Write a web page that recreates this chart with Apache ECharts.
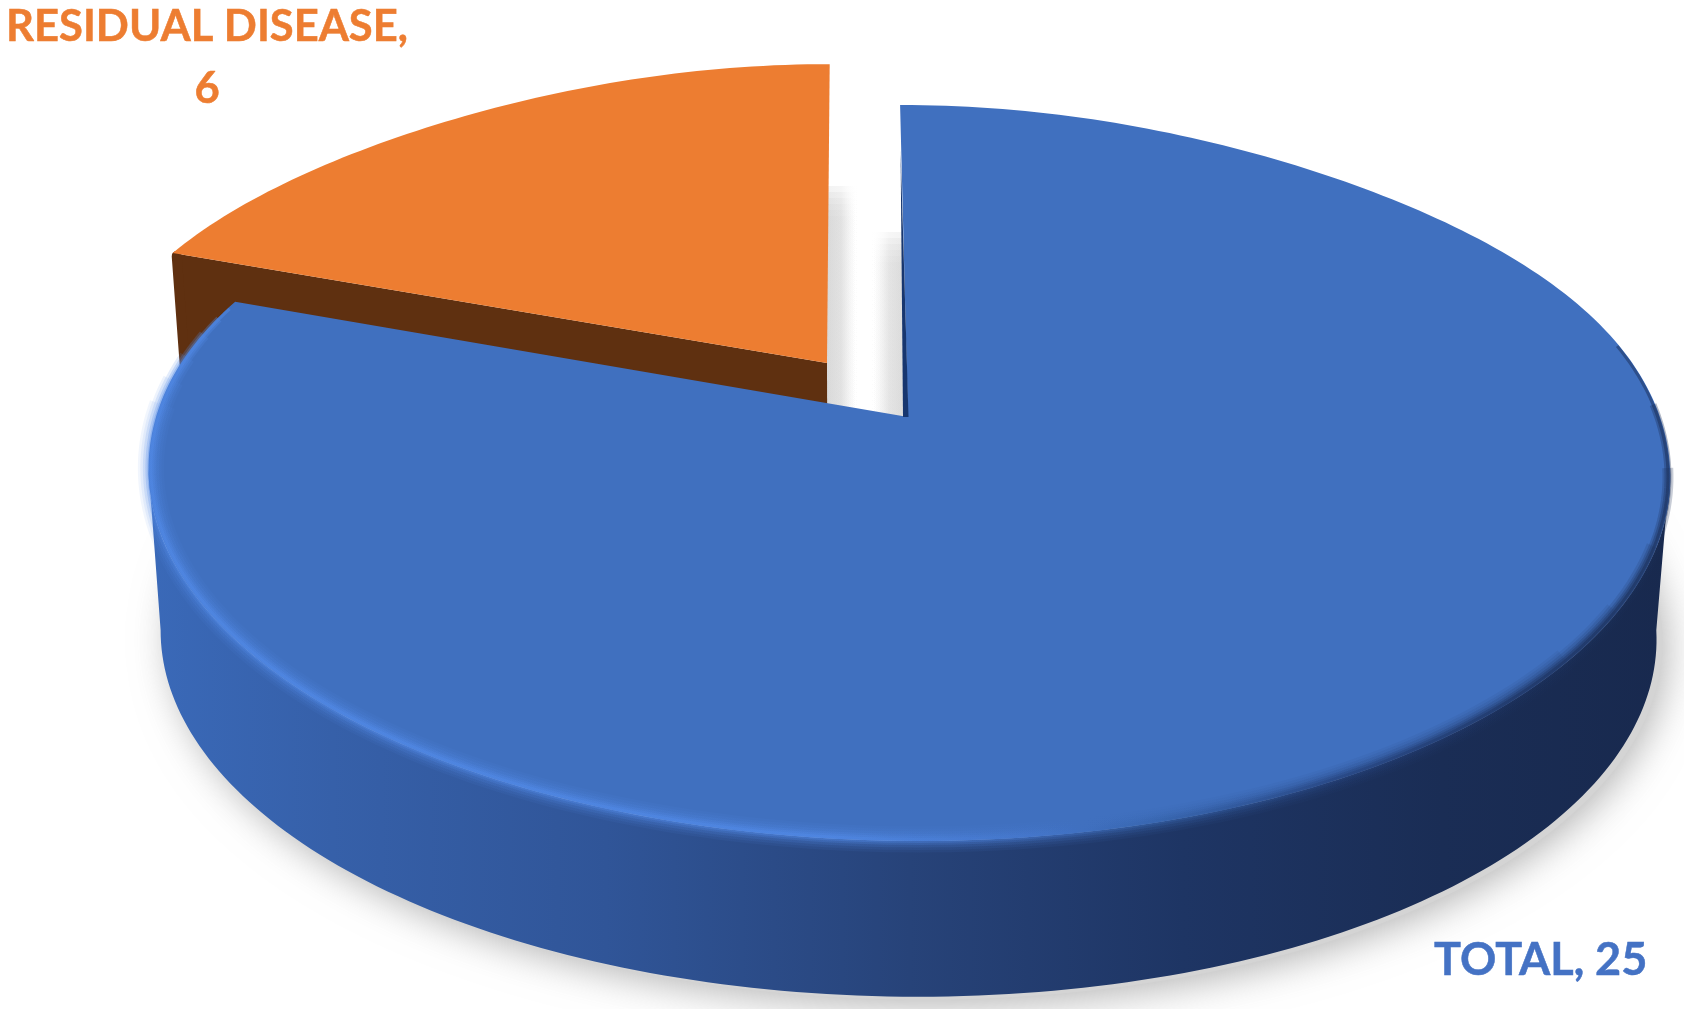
<!DOCTYPE html>
<html>
<head>
<meta charset="utf-8">
<style>html,body{margin:0;padding:0;background:#fff}#c{width:1684px;height:1009px}</style>
<script src="https://cdn.jsdelivr.net/npm/echarts@6/dist/echarts.min.js"></script>
</head>
<body>
<div id="c"></div>
<script>
// Data
var categories = ['TOTAL', 'RESIDUAL DISEASE'];
var values = [25, 6];
var sliceColors = ['#4070BF', '#ED7D31'];
var labelColors = ['#4472C4', '#ED7D31'];

// 3D pie camera: maps the unit circle of the pie plane to the screen
var cam = { vx: 848, tipX: 908, tipY: 417, b: 752, a: 359.5, p: 0.152, depth: 163, shrink: 0.983, squash: 32 };
var orangeShift = { x: -0.1084, y: 0.1537 };

function project(x, y, lower) {
  var w = 1 + cam.p * y;
  var X = cam.vx + (cam.b * x + cam.tipX - cam.vx) / w;
  var Y = cam.tipY - cam.a * y / w;
  if (lower) {
    X = cam.vx + 12 + (X - cam.vx - 12) * cam.shrink;
    Y = cam.tipY + cam.depth + (Y - cam.tipY) * cam.shrink;
  }
  return [X, Y];
}
function rim(deg, shift, lower, r) {
  var t = deg * Math.PI / 180, k = r == null ? 1 : r;
  var s = Math.sin(t), c = Math.cos(t);
  var p = project(k * s + shift.x, k * c + shift.y, lower);
  if (!lower && c > 0) p[1] += cam.squash * s * s * c * c;
  return p;
}
function arc(from, to, shift, lower, r) {
  var pts = [], n = Math.max(2, Math.round(Math.abs(to - from)));
  for (var i = 0; i <= n; i++) pts.push(rim(from + (to - from) * i / n, shift, lower, r));
  return pts;
}
function hGrad(x0, x1, stops) {
  return new echarts.graphic.LinearGradient(x0, 0, x1, 0, stops.map(function (s) {
    return { offset: s[0], color: s[1] };
  }), true);
}

var total = values.reduce(function (a, b) { return a + b; }, 0);
var NONE = { x: 0, y: 0 };

function gapBand(x0, x1, topY, botY, stops, kids) {
  for (var k = 0; k < 6; k++) {
    kids.push({ type: 'polygon', z2: 2, shape: { points: [[x0, topY + k * 6], [x1, topY + k * 6], [x1, botY], [x0, botY]] },
      style: { fill: hGrad(x0, x1, stops), opacity: 0.28 } });
  }
}

function renderSlice(params, api) {
  var i = params.dataIndex, v = api.value(0);
  var start = 0;
  for (var j = 0; j < i; j++) start += values[j];
  var a0 = start / total * 360, a1 = (start + v) / total * 360;
  var kids = [];
  if (i === 0) {
    var tip = project(0, 0);
    var tipO = project(orangeShift.x, orangeShift.y);
    // soft ground shadow
    var sh = arc(80, 285, NONE, true, 1);
    kids.push({ type: 'polygon', z2: 1, shape: { points: sh.map(function (p) { return [p[0] + 6, p[1] + 3]; }) },
      style: { fill: '#d4d4d4', shadowBlur: 38, shadowColor: 'rgba(130,130,130,0.6)', shadowOffsetX: 4, shadowOffsetY: 6 } });
    // shadows seen through the gap between the slices
    gapBand(tipO[0], tipO[0] + 32, 186, tipO[1] + 60, [[0, '#d2d2d2'], [0.45, '#dedede'], [1, 'rgba(255,255,255,0)']], kids);
    gapBand(tip[0] - 38, tip[0] - 3, 232, tip[1] + 10, [[0, 'rgba(255,255,255,0)'], [0.55, '#e0e0e0'], [1, '#d4d4d4']], kids);
    // outer wall, between the two silhouette points of the disc
    var wallPts = arc(98, 262, NONE, false).concat(arc(262, 98, NONE, true));
    kids.push({ type: 'polygon', z2: 5, shape: { points: wallPts },
      style: { fill: hGrad(150, 1670, [[0, '#3A69B8'], [0.12, '#3660A9'], [0.3, '#305598'], [0.5, '#274379'], [0.68, '#1E3564'], [0.85, '#1A2D55'], [1, '#18294E']]) } });
    // top face
    kids.push({ type: 'polygon', z2: 6, shape: { points: [project(0, 0)].concat(arc(a0, a1, NONE, false)) },
      style: { fill: sliceColors[0] } });
    // cut face sliver on the left of the top face
    var mid = rim(0, { x: 0, y: -0.14 }, false, 1);
    kids.push({ type: 'polygon', z2: 7, shape: { points: [[mid[0] - 0.5, 150], [tip[0] + 0.5, tip[1]], [tip[0] - 5, tip[1]]] },
      style: { fill: '#17366F' } });
    // bevel along the rim, tapering toward the upper right
    var rimGrad = hGrad(147, 1672, [[0, '#5189E6'], [0.45, '#5189E6'], [0.58, '#4577CC'], [0.66, '#3765AE'], [0.78, '#25427C'], [0.9, '#1C315E'], [1, '#1A2D55']]);
    [[26, 0.08, 128, 272], [21, 0.1, 120, 276], [16, 0.16, 110, 280], [11, 0.24, 98, 284], [7, 0.34, 88, 287], [3, 0.5, 78, 289]].forEach(function (s) {
      kids.push({ type: 'polyline', z2: 8, shape: { points: arc(s[2], s[3], NONE, false, 0.997) },
        style: { stroke: rimGrad, fill: null, lineWidth: s[0], opacity: s[1], lineCap: 'butt', lineJoin: 'round' } });
    });
    kids.push({ type: 'text', z2: 9, style: { text: categories[0] + ', ' + v, x: 1434, y: 960, fill: labelColors[0],
      stroke: labelColors[0], lineWidth: 0.5, font: 'bold 45px Lato', textAlign: 'left', textVerticalAlign: 'middle' } });
  } else {
    var s = orangeShift;
    var c0 = project(s.x, s.y);
    var e0 = rim(a0, s, false);
    var cb = project(s.x, s.y, true);
    var eb = rim(a0, s, true);
    kids.push({ type: 'polygon', z2: 3, shape: { points: [c0, e0, eb, cb] }, style: { fill: '#5F3010' } });
    kids.push({ type: 'polyline', z2: 3, shape: { points: [[e0[0] + 4, e0[1] + 3], [eb[0] + 4, eb[1]]] },
      style: { stroke: '#5F3010', fill: null, lineWidth: 10, lineCap: 'round' } });
    kids.push({ type: 'polygon', z2: 4, shape: { points: [c0].concat(arc(a0, a1, s, false)) },
      style: { fill: sliceColors[1] } });
    kids.push({ type: 'text', z2: 9, style: { text: categories[1] + ',', x: 207, y: 27, fill: labelColors[1],
      stroke: labelColors[1], lineWidth: 0.5, font: 'bold 43.5px Lato', textAlign: 'center', textVerticalAlign: 'middle' } });
    kids.push({ type: 'text', z2: 9, style: { text: String(v), x: 207, y: 89, fill: labelColors[1],
      stroke: labelColors[1], lineWidth: 0.5, font: 'bold 43.5px Lato', textAlign: 'center', textVerticalAlign: 'middle' } });
  }
  return { type: 'group', children: kids };
}

var chart = echarts.init(document.getElementById('c'));
chart.setOption({
  backgroundColor: '#fff',
  animation: false,
  series: [{
    type: 'custom',
    coordinateSystem: 'none',
    silent: true,
    clip: false,
    renderItem: renderSlice,
    data: values.map(function (v, i) { return { name: categories[i], value: [v] }; })
  }]
});
</script>
</body>
</html>
